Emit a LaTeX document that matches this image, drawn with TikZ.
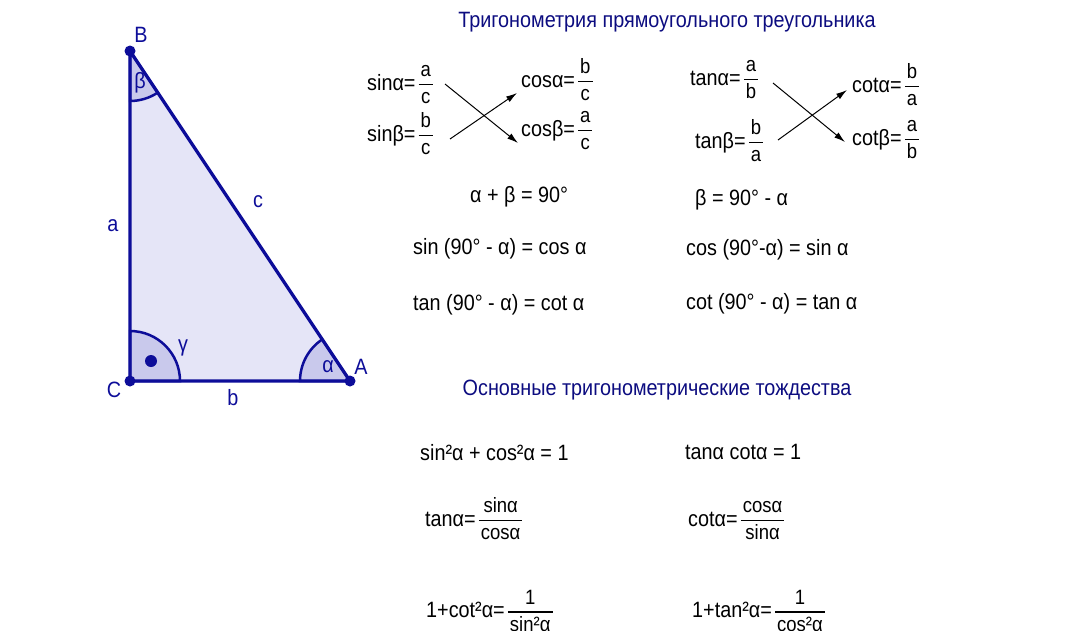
\documentclass[tikz,border=0pt]{standalone}
\usepackage{fontspec}
\usepackage{amsmath}
\setmainfont{Liberation Sans}
\usetikzlibrary{arrows.meta}

\definecolor{edgeblue}{RGB}{13,13,153}
\definecolor{trifill}{RGB}{229,229,247}
\definecolor{angfill}{RGB}{201,201,236}
\definecolor{titleblue}{RGB}{12,12,128}

\newcommand\frs{\fontsize{18.5}{19}\selectfont}
\newcommand\fr[2]{\hspace{2pt}$\genfrac{}{}{1.2pt}{1}%
    {\text{\frs\rule[-5pt]{0pt}{0pt}\hspace{2pt}#1\hspace{2pt}}}%
    {\text{\frs\rule{0pt}{15.5pt}\hspace{2pt}#2\hspace{2pt}}}$}

\begin{document}
\begin{tikzpicture}[x=1pt,y=1pt,
    txt/.style={yscale=1.12, transform shape, inner sep=0pt},
    lbl/.style={txt, text=edgeblue, font=\fontsize{19.8}{21}\selectfont},
    fml/.style={txt, anchor=west, font=\fontsize{19.8}{21}\selectfont},
    ttl/.style={txt, text=titleblue, font=\fontsize{19.8}{21}\selectfont},
    arr/.style={-{Latex[length=11pt,width=6.5pt]}, line width=1pt}]
    \useasboundingbox (0,0) rectangle (1075,-630);

    % triangle
    \coordinate (C) at (130,-381);
    \coordinate (B) at (130,-51);
    \coordinate (A) at (350,-381);
    \fill[trifill] (A) -- (B) -- (C) -- cycle;
    \filldraw[fill=angfill, draw=edgeblue, line width=2.5pt] (C) -- ++(50,0) arc (0:90:50) -- cycle;
    \filldraw[fill=angfill, draw=edgeblue, line width=2.5pt] (A) -- ++(180:50) arc (180:123.7:50) -- cycle;
    \filldraw[fill=angfill, draw=edgeblue, line width=2.5pt] (B) -- ++(270:50) arc (270:303.7:50) -- cycle;
    \draw[edgeblue, line width=3.2pt, line join=round] (A) -- (B) -- (C) -- cycle;
    \foreach \p in {A,B,C}
        \fill[edgeblue] (\p) circle (5.5);
    \fill[edgeblue] (151,-361) circle (6);

    \node[lbl] (lB) at (141,-35) {B};
    \node[lbl] (lC) at (114,-390) {C};
    \node[lbl] (lA) at (361,-367) {A};
    \node[lbl] (la) at (113,-226) {a};
    \node[lbl] (lb) at (233,-398) {b};
    \node[lbl] (lc) at (258,-202) {c};
    \node[lbl] (lal) at (328,-367) {α};
    \node[lbl] (lbe) at (140,-83) {β};
    \node[lbl] (lga) at (183,-348) {γ};

    % titles
    \node[ttl] (ttlA) at (667,-22) {Тригонометрия прямоугольного треугольника};
    \node[ttl] (ttlB) at (657,-390) {Основные тригонометрические тождества};

    % sin, cos
    \node[fml] (sa) at (367,-85) {sinα=\fr{a}{c}};
    \node[fml] (sb) at (367,-134) {sinβ=\fr{b}{c}};
    \node[fml] (ca) at (521,-80) {cosα=\fr{b}{c}};
    \node[fml] (cb) at (521,-131) {cosβ=\fr{a}{c}};
    \coordinate (x1s) at (445,-84);
    \coordinate (x1e) at (518,-143);
    \coordinate (x2s) at (450,-139);
    \coordinate (x2e) at (517,-93);
    \draw[arr] (x1s) -- (x1e);
    \draw[arr] (x2s) -- (x2e);

    % tan, cot
    \node[fml] (ta) at (690,-80) {tanα=\fr{a}{b}};
    \node[fml] (tb) at (695,-141) {tanβ=\fr{b}{a}};
    \node[fml] (cta) at (852,-85) {cotα=\fr{b}{a}};
    \node[fml] (ctb) at (852,-140) {cotβ=\fr{a}{b}};
    \coordinate (x3s) at (773,-83);
    \coordinate (x3e) at (845,-142);
    \coordinate (x4s) at (778,-140);
    \coordinate (x4e) at (847,-90);
    \draw[arr] (x3s) -- (x3e);
    \draw[arr] (x4s) -- (x4e);

    \node[fml] (sum) at (470,-197) {α + β = 90°};
    \node[fml] (bet) at (695,-200) {β = 90° - α};
    \node[fml] (sc) at (413,-249) {sin (90° - α) = cos α};
    \node[fml] (cs) at (686,-250) {cos (90°-α) = sin α};
    \node[fml] (tc) at (413,-305) {tan (90° - α) = cot α};
    \node[fml] (ct) at (686,-304) {cot (90° - α) = tan α};

    % identities
    \node[fml] (pyth) at (420,-453) {sin²α + cos²α = 1};
    \node[fml] (prod) at (685,-452) {tanα cotα = 1};
    \node[fml] (tq) at (425,-519) {tanα=\fr{sinα}{cosα}};
    \node[fml] (cq) at (688,-521) {cotα=\fr{cosα}{sinα}};
    \node[fml] (ic) at (426,-611) {1+cot²α=\fr{1}{sin²α}};
    \node[fml] (it) at (692,-611) {1+tan²α=\fr{1}{cos²α}};
\end{tikzpicture}
\end{document}
